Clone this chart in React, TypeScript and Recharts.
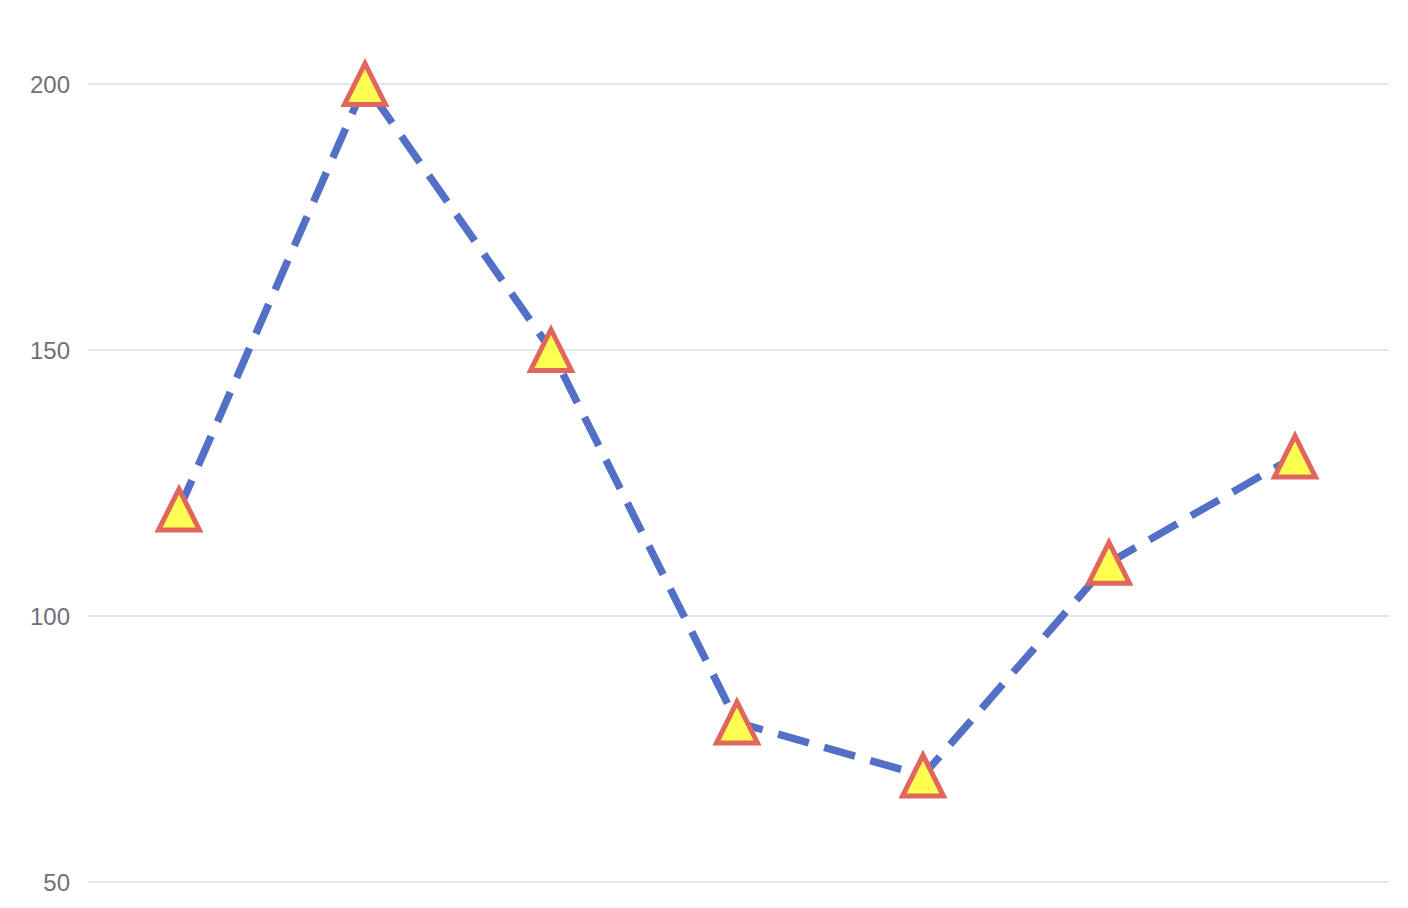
import { LineChart, Line, XAxis, YAxis, CartesianGrid } from 'recharts'

const categories = ['Mon', 'Tue', 'Wed', 'Thu', 'Fri', 'Sat', 'Sun']
const values = [120, 200, 150, 80, 70, 110, 130]
const yTicks = [50, 100, 150, 200]

const LINE_COLOR = '#5470c6'
const MARK_STROKE = '#e0675e'
const MARK_FILL = '#ffff52'

const chartData = categories.map((name, i) => ({ name, value: values[i] }))

// triangle marker, centred on the data point
function TriangleDot(props: any) {
  const { cx, cy, index } = props
  if (cx == null || cy == null) return <g key={`dot-${index}`} />
  const s = 41
  const d = `M${cx},${cy - s / 2} L${cx + s / 2},${cy + s / 2} L${cx - s / 2},${cy + s / 2} Z`
  return (
    <path
      key={`dot-${index}`}
      d={d}
      fill={MARK_FILL}
      stroke={MARK_STROKE}
      strokeWidth={5}
      strokeLinejoin="miter"
    />
  )
}

export default function App() {
  return (
    <div style={{ position: 'absolute', left: 0, top: 0, width: 1408, height: 908, background: '#fff' }}>
      <LineChart
        width={1408}
        height={908}
        data={chartData}
        margin={{ top: 84, right: 19, bottom: 26, left: 0 }}
      >
        <CartesianGrid vertical={false} stroke="#e0e6f1" strokeWidth={2} />
        <XAxis dataKey="name" hide padding={{ left: 91, right: 94 }} />
        <YAxis
          width={88}
          domain={[50, 200]}
          ticks={yTicks}
          axisLine={false}
          tickLine={false}
          tickSize={0}
          tickMargin={18}
          tick={{ fontSize: 24, fill: '#6e7079', fontFamily: 'Helvetica, Arial, "Liberation Sans", sans-serif' }}
        />
        <Line
          type="linear"
          dataKey="value"
          stroke={LINE_COLOR}
          strokeWidth={7.5}
          strokeDasharray="32 16"
          dot={TriangleDot}
          activeDot={false}
          isAnimationActive={false}
        />
      </LineChart>
    </div>
  )
}
